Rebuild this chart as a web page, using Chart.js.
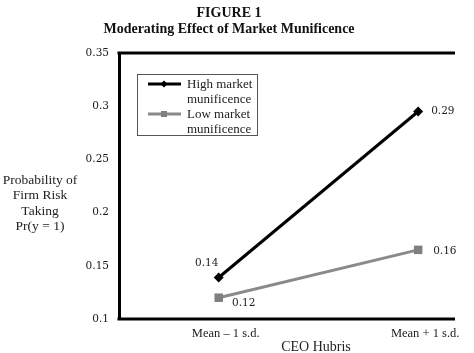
<!DOCTYPE html>
<html>
<head>
<meta charset="utf-8">
<script src="https://cdn.jsdelivr.net/npm/chart.js@4"></script>
<style>
  html, body { margin: 0; padding: 0; background: #fff; overflow: hidden; }
  #wrap { width: 474px; height: 353px; position: relative; }
  canvas { display: block; }
</style>
</head>
<body>
<div id="wrap"><canvas id="fig"></canvas></div>
<script>
// data
var xPositions = [1, 2];
var xTickLabels = ["Mean \u2013 1 s.d.", "Mean + 1 s.d."];
var highValues = [0.139, 0.295];
var lowValues = [0.12, 0.165];
var highLabels = ["0.14", "0.29"];
var lowLabels = ["0.12", "0.16"];
var seriesNames = [["High market", "munificence"], ["Low market", "munificence"]];
var yTitle = ["Probability of", "Firm Risk", "Taking", "Pr(y = 1)"];
var figTitle = ["FIGURE 1", "Moderating Effect of Market Munificence"];
var xTitle = "CEO Hubris";

var serif = "'Liberation Serif', 'Times New Roman', serif";
var numFont = "'DejaVu Serif', serif";
var frameRight = 455;

var extras = {
  id: 'extras',
  afterDraw: function(chart) {
    var ctx = chart.ctx;
    var area = chart.chartArea;
    ctx.save();
    ctx.textBaseline = 'middle';

    // top and bottom frame lines (end short of the plot edge, as in the figure)
    ctx.strokeStyle = '#000';
    ctx.lineWidth = 3;
    ctx.beginPath();
    ctx.moveTo(area.left - 1.5, area.top);
    ctx.lineTo(frameRight, area.top);
    ctx.moveTo(area.left - 1.5, area.bottom);
    ctx.lineTo(frameRight, area.bottom);
    ctx.stroke();

    // figure title
    ctx.fillStyle = '#111';
    ctx.textAlign = 'center';
    ctx.font = 'bold 14px ' + serif;
    ctx.fillText(figTitle[0], 229, 13);
    ctx.fillText(figTitle[1], 229, 29);

    // point labels
    ctx.fillStyle = '#222';
    ctx.font = '10.5px ' + numFont;
    var mh = chart.getDatasetMeta(0).data;
    var ml = chart.getDatasetMeta(1).data;
    ctx.fillText(highLabels[0], mh[0].x - 12, mh[0].y - 14);
    ctx.fillText(lowLabels[0], ml[0].x + 25, ml[0].y + 6);
    ctx.textAlign = 'left';
    ctx.fillText(highLabels[1], mh[1].x + 13, mh[1].y);
    ctx.fillText(lowLabels[1], ml[1].x + 15, ml[1].y + 1);

    // legend box
    var lx = area.left + 18, ly = area.top + 21;
    ctx.strokeStyle = '#555';
    ctx.lineWidth = 1;
    ctx.strokeRect(lx + 0.5, ly + 0.5, 120, 61);
    var ds = chart.data.datasets;
    for (var i = 0; i < 2; i++) {
      var yy = ly + 10 + i * 30;
      ctx.strokeStyle = ds[i].borderColor;
      ctx.lineWidth = 3;
      ctx.beginPath();
      ctx.moveTo(lx + 11, yy);
      ctx.lineTo(lx + 44, yy);
      ctx.stroke();
      ctx.fillStyle = ds[i].backgroundColor;
      if (i === 0) {
        ctx.beginPath();
        ctx.moveTo(lx + 27, yy - 3.5);
        ctx.lineTo(lx + 30.5, yy);
        ctx.lineTo(lx + 27, yy + 3.5);
        ctx.lineTo(lx + 23.5, yy);
        ctx.closePath();
        ctx.fill();
      } else {
        ctx.fillRect(lx + 24, yy - 3, 6, 6);
      }
      ctx.fillStyle = '#222';
      ctx.font = '13px ' + serif;
      ctx.fillText(seriesNames[i][0], lx + 50, yy + 1);
      ctx.fillText(seriesNames[i][1], lx + 50, yy + 16);
    }

    // y axis title (horizontal, stacked)
    ctx.textAlign = 'center';
    ctx.font = '13.5px ' + serif;
    for (var j = 0; j < yTitle.length; j++) {
      ctx.fillText(yTitle[j], 40, 180 + j * 15.5);
    }

    // x axis title
    ctx.font = '14px ' + serif;
    ctx.fillText(xTitle, 316, 347);
    ctx.restore();
  }
};

new Chart(document.getElementById('fig'), {
  type: 'line',
  data: {
    datasets: [{
      label: seriesNames[0].join(' '),
      data: xPositions.map(function(x, i) { return {x: x, y: highValues[i]}; }),
      borderColor: '#000',
      backgroundColor: '#000',
      borderWidth: 3,
      pointStyle: 'rectRot',
      pointRadius: 5,
      pointBorderWidth: 0
    }, {
      label: seriesNames[1].join(' '),
      data: xPositions.map(function(x, i) { return {x: x, y: lowValues[i]}; }),
      borderColor: '#8a8a8a',
      backgroundColor: '#7f7f7f',
      borderWidth: 3,
      pointStyle: 'rect',
      pointRadius: 6,
      pointBorderWidth: 0
    }]
  },
  options: {
    responsive: true,
    maintainAspectRatio: false,
    animation: false,
    layout: { padding: { left: 0, right: 0, top: 53, bottom: 0 } },
    plugins: {
      legend: { display: false },
      tooltip: { enabled: false },
      title: { display: false }
    },
    scales: {
      x: {
        type: 'linear',
        min: 0.5,
        max: 2.25,
        grid: { display: false },
        border: { display: false },
        afterBuildTicks: function(axis) {
          axis.ticks = xPositions.map(function(v) { return {value: v}; });
        },
        afterFit: function(axis) { axis.height = 34; },
        ticks: {
          color: '#222',
          font: { family: serif, size: 12.5 },
          padding: -1,
          labelOffset: 7,
          maxRotation: 0,
          callback: function(v) {
            var k = xPositions.indexOf(v);
            return k >= 0 ? xTickLabels[k] : '';
          }
        }
      },
      y: {
        min: 0.1,
        max: 0.35,
        grid: { display: false },
        border: { display: true, color: '#000', width: 3 },
        afterFit: function(axis) { axis.width = 119; },
        ticks: {
          stepSize: 0.05,
          color: '#1a1a1a',
          padding: 2,
          font: { family: numFont, size: 10.5 },
          callback: function(v) { return String(Math.round(v * 100) / 100); }
        }
      }
    }
  },
  plugins: [extras]
});
</script>
</body>
</html>
